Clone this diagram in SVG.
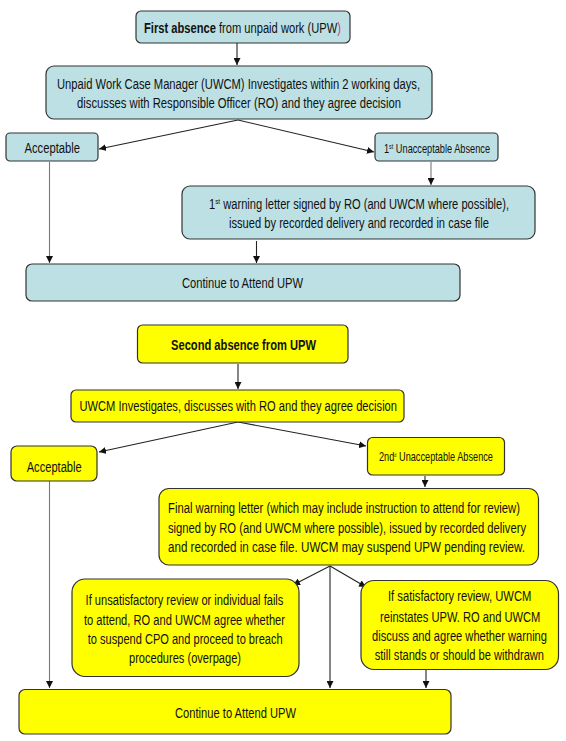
<svg xmlns="http://www.w3.org/2000/svg" width="566" height="741" viewBox="0 0 566 741">
<defs>
<marker id="ah" viewBox="0 0 10 10" refX="10" refY="5" markerWidth="7" markerHeight="7" markerUnits="userSpaceOnUse" orient="auto">
<path d="M0,0 L10,5 L0,10 z" fill="#111"/>
</marker>
<style>
.b{fill:#BCE0E3;stroke:#333;stroke-width:1.2}
.y{fill:#FFFF00;stroke:#333;stroke-width:1.2}
.t{font-family:"Liberation Sans",Arial,sans-serif;font-size:14px;fill:#111}
.s{font-family:"Liberation Sans",Arial,sans-serif;font-size:12px;fill:#111}
.bold{font-weight:bold}
.c line{stroke:#222;stroke-width:1.1;marker-end:url(#ah)}
.c line.g{stroke:#777}
</style>
</defs>
<rect width="566" height="741" fill="#fff"/>
<g class="c" id="connectors">
<line x1="237" y1="43" x2="237" y2="65"/>
<line x1="238" y1="120" x2="99" y2="149"/>
<line x1="238" y1="120" x2="374" y2="152"/>
<line class="g" x1="431" y1="162" x2="431" y2="185"/>
<line class="g" x1="49.5" y1="162" x2="49.5" y2="263"/>
<line x1="256.5" y1="241" x2="256.5" y2="263"/>
<line x1="238" y1="364" x2="238" y2="389"/>
<line x1="238" y1="422" x2="99" y2="452"/>
<line x1="238" y1="422" x2="366" y2="446"/>
<line x1="425" y1="476" x2="425" y2="487"/>
<line x1="330" y1="566" x2="293" y2="585"/>
<line x1="330" y1="566" x2="366" y2="587"/>
<line x1="330" y1="566" x2="330" y2="688"/>
<line class="g" x1="49.5" y1="481" x2="49.5" y2="688"/>
<line x1="426" y1="670" x2="426" y2="688"/>
</g>
<g id="n1"><rect class="b" x="136" y="11" width="214" height="32" rx="5"/>
<text class="t" transform="matrix(.82 0 0 1 144 33)" textLength="240.2" lengthAdjust="spacingAndGlyphs"><tspan class="bold">First absence</tspan> from unpaid work (UPW<tspan fill="#e0306a">)</tspan></text></g>
<g id="n2"><rect class="b" x="46" y="66" width="386" height="53" rx="8"/>
<text class="t" transform="matrix(.82 0 0 1 57 89)" textLength="442.7" lengthAdjust="spacingAndGlyphs">Unpaid Work Case Manager (UWCM) Investigates within 2 working days,</text>
<text class="t" transform="matrix(.82 0 0 1 77 107.5)" textLength="395.1" lengthAdjust="spacingAndGlyphs">discusses with  Responsible Officer (RO) and they agree decision</text></g>
<g id="n3"><rect class="b" x="6" y="133" width="92" height="28" rx="4"/>
<text class="t" transform="matrix(.82 0 0 1 24.5 153)" textLength="67.7" lengthAdjust="spacingAndGlyphs">Acceptable</text></g>
<g id="n4"><rect class="b" x="375" y="133" width="123" height="28" rx="4"/>
<text class="s" transform="matrix(.82 0 0 1 384 152.5)" textLength="129.3" lengthAdjust="spacingAndGlyphs">1<tspan font-size="7" dy="-4">st</tspan><tspan dy="4"> Unacceptable Absence</tspan></text></g>
<g id="n5"><rect class="b" x="182" y="186" width="353" height="53" rx="8"/>
<text class="t" transform="matrix(.82 0 0 1 209 208.5)" textLength="365.9" lengthAdjust="spacingAndGlyphs">1<tspan font-size="8" dy="-5">st</tspan><tspan dy="5"> warning letter signed by RO (and UWCM where possible),</tspan></text>
<text class="t" transform="matrix(.82 0 0 1 229 227.5)" textLength="317.1" lengthAdjust="spacingAndGlyphs">issued by recorded delivery and recorded in case file</text></g>
<g id="n6"><rect class="b" x="26" y="264" width="434" height="37" rx="6"/>
<text class="t" transform="matrix(.82 0 0 1 182 288)" textLength="147.6" lengthAdjust="spacingAndGlyphs">Continue to Attend UPW</text></g>
<g id="n7"><rect class="y" x="137.5" y="325" width="210.5" height="38" rx="5"/>
<text class="t bold" transform="matrix(.82 0 0 1 171 350)" textLength="176.8" lengthAdjust="spacingAndGlyphs">Second absence from UPW</text></g>
<g id="n8"><rect class="y" x="71" y="390" width="333" height="32" rx="5"/>
<text class="t" transform="matrix(.82 0 0 1 79.5 411)" textLength="387.2" lengthAdjust="spacingAndGlyphs">UWCM Investigates, discusses with RO and they agree decision</text></g>
<g id="n9"><rect class="y" x="11" y="446" width="86" height="35" rx="6"/>
<text class="t" transform="matrix(.82 0 0 1 26.7 472)" textLength="67.1" lengthAdjust="spacingAndGlyphs">Acceptable</text></g>
<g id="n10"><rect class="y" x="367.5" y="437.5" width="137" height="37.5" rx="5"/>
<text class="s" transform="matrix(.82 0 0 1 379 460.5)" textLength="139" lengthAdjust="spacingAndGlyphs">2nd<tspan font-size="5" dy="-4">d</tspan><tspan dy="4"> Unacceptable Absence</tspan></text></g>
<g id="n11"><rect class="y" x="159" y="488.5" width="379.5" height="76.5" rx="10"/>
<text class="t" transform="matrix(.82 0 0 1 168 513)" textLength="429.3" lengthAdjust="spacingAndGlyphs">Final warning letter (which may include instruction to attend for review)</text>
<text class="t" transform="matrix(.82 0 0 1 168 532.5)" textLength="436.6" lengthAdjust="spacingAndGlyphs">signed  by RO (and UWCM where possible), issued by recorded delivery</text>
<text class="t" transform="matrix(.82 0 0 1 168 552)" textLength="435.4" lengthAdjust="spacingAndGlyphs">and recorded  in  case file.  UWCM may suspend UPW pending review.</text></g>
<g id="n12"><rect class="y" x="72" y="579" width="227" height="97.5" rx="13"/>
<text class="t" transform="matrix(.82 0 0 1 85.6 605)" textLength="241.2" lengthAdjust="spacingAndGlyphs">If unsatisfactory review or individual fails</text>
<text class="t" transform="matrix(.82 0 0 1 84 624.5)" textLength="245.1" lengthAdjust="spacingAndGlyphs">to attend, RO and UWCM agree whether</text>
<text class="t" transform="matrix(.82 0 0 1 87.7 644)" textLength="237.8" lengthAdjust="spacingAndGlyphs">to suspend CPO and proceed to breach</text>
<text class="t" transform="matrix(.82 0 0 1 129 663)" textLength="136.6" lengthAdjust="spacingAndGlyphs">procedures (overpage)</text></g>
<g id="n13"><rect class="y" x="361" y="580.5" width="197.5" height="89" rx="13"/>
<text class="t" transform="matrix(.82 0 0 1 388 601)" textLength="174.9" lengthAdjust="spacingAndGlyphs">If satisfactory review, UWCM</text>
<text class="t" transform="matrix(.82 0 0 1 380 621.5)" textLength="195.6" lengthAdjust="spacingAndGlyphs">reinstates UPW. RO and UWCM</text>
<text class="t" transform="matrix(.82 0 0 1 372 641)" textLength="213.4" lengthAdjust="spacingAndGlyphs">discuss and agree whether warning</text>
<text class="t" transform="matrix(.82 0 0 1 374.7 660)" textLength="206.5" lengthAdjust="spacingAndGlyphs">still stands or should be withdrawn</text></g>
<g id="n14"><rect class="y" x="19" y="689.5" width="432" height="44.5" rx="6"/>
<text class="t" transform="matrix(.82 0 0 1 175 718)" textLength="147.6" lengthAdjust="spacingAndGlyphs">Continue to Attend UPW</text></g>
</svg>
